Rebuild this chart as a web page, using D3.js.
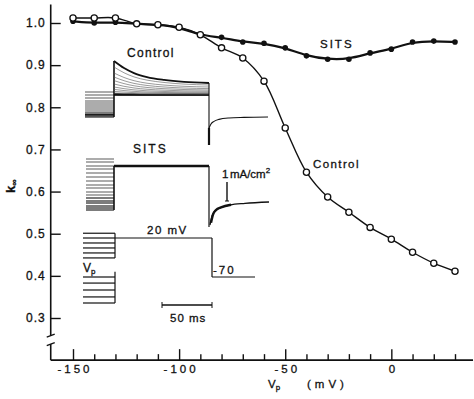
<!DOCTYPE html>
<html>
<head>
<meta charset="utf-8">
<script src="https://cdn.jsdelivr.net/npm/d3@7"></script>
<style>
body { margin: 0; background: #fff; }
text { font-family: "Liberation Sans", Arial, sans-serif; fill: #111; stroke: #111; stroke-width: 0.3px; }
</style>
</head>
<body>
<script>
var width = 474, height = 399;

// steady-state availability k_inf against prepulse potential Vp (mV)
var vp = [-150, -140, -130, -120, -110, -100, -90, -80, -70, -60, -50, -40, -30, -20, -10, 0, 10, 20, 30];
var kControl = [1.012, 1.012, 1.012, 0.998, 0.996, 0.990, 0.972, 0.941, 0.917, 0.862, 0.751, 0.646, 0.587, 0.551, 0.515, 0.487, 0.456, 0.430, 0.411];
var kSits = [1.004, 1.000, 1.002, 0.998, 0.996, 0.990, 0.971, 0.966, 0.955, 0.952, 0.941, 0.922, 0.914, 0.914, 0.929, 0.938, 0.955, 0.957, 0.955];

var xMajor = [-150, -100, -50, 0];
var xMinor = [-140, -130, -120, -110, -90, -80, -70, -60, -40, -30, -20, -10, 10, 20, 30];
var yTicks = [0.3, 0.4, 0.5, 0.6, 0.7, 0.8, 0.9, 1.0];

// inset records (time in ms, current in mA/cm2, voltage in mV)
var ctrlPre  = [0.0, 0.06, 0.12, 0.2, 0.3, 0.4, 0.5, 0.6, 0.7, 0.8, 0.95, 1.1, 1.25];
var ctrlPeak = [1.1, 1.12, 1.15, 1.2, 1.28, 1.38, 1.5, 1.65, 1.82, 2.0, 2.2, 2.5, 2.8];
var ctrlEnd  = [1.1, 1.11, 1.12, 1.14, 1.17, 1.2, 1.24, 1.29, 1.35, 1.42, 1.5, 1.6, 1.7];
var decayT    = [0, 10, 20, 33, 50, 70, 95];
var decayFrac = [1, 0.68, 0.45, 0.27, 0.14, 0.05, 0];
var sitsPre  = [2.15, 2.0, 1.8, 1.65, 1.45, 1.25, 1.05, 0.85, 0.7, 0.5, 0.35, 0.2, 0.05, -0.05, -0.2, -0.3, -0.4];
var sitsStep = 1.8;
var tailT    = [0, 2, 5, 10, 20, 35, 59];
var ctrlTail = [-0.55, -0.35, -0.22, -0.12, -0.05, -0.02, 0];
var sitsTail = [-1.15, -0.7, -0.45, -0.3, -0.15, -0.07, 0];
var ctrlSpike = -1.4, sitsSpike = -1.25;
var pulseEnd = 95;
var vPre = [31, 20, 8.5, -3, -14.5, -26, -70, -84, -100, -116, -130];
var vStep = 20, vHold = -70;

var svg = d3.select("body").append("svg")
    .attr("width", width)
    .attr("height", height);

svg.append("rect").attr("width", width).attr("height", height).attr("fill", "#fff");

var x = d3.scaleLinear().domain([-150, 30]).range([73, 455]);
var y = d3.scaleLinear().domain([0.3, 1.0]).range([318, 23]);

// ---- axes ----
var axes = svg.append("g").attr("id", "axes");
var x0 = x(-160.5), yBase = y(0.2);

axes.append("g")
    .attr("transform", "translate(0," + yBase + ")")
    .call(d3.axisBottom(x).tickValues(xMinor).tickSize(-6).tickFormat(""))
    .call(g => g.select(".domain").remove());

var xAx = axes.append("g")
    .attr("transform", "translate(0," + yBase + ")")
    .call(d3.axisBottom(x).tickValues(xMajor).tickSize(-11).tickPadding(5).tickFormat(d => String(d)));
xAx.select(".domain").remove();
xAx.selectAll("text").attr("font-size", 11.5).attr("letter-spacing", 3).attr("dx", 1.5)
    .attr("font-family", "Liberation Sans, Arial, sans-serif").attr("fill", "#111");

var yAx = axes.append("g")
    .attr("transform", "translate(" + x0 + ",0)")
    .call(d3.axisLeft(y).tickValues(yTicks).tickSize(-10).tickPadding(5).tickFormat(d3.format(".1f")));
yAx.select(".domain").remove();
yAx.selectAll("text").attr("font-size", 12).attr("letter-spacing", 1)
    .attr("font-family", "Liberation Sans, Arial, sans-serif").attr("fill", "#111");
axes.selectAll(".tick line").attr("stroke", "#111").attr("stroke-width", 1.4);

axes.append("line").attr("x1", x0).attr("x2", x(38.5)).attr("y1", yBase).attr("y2", yBase)
    .attr("stroke", "#111").attr("stroke-width", 1.6);
axes.append("line").attr("x1", x0).attr("x2", x0).attr("y1", y(1.044)).attr("y2", y(0.258))
    .attr("stroke", "#111").attr("stroke-width", 1.6);
axes.append("line").attr("x1", x0).attr("x2", x0).attr("y1", y(0.238)).attr("y2", yBase)
    .attr("stroke", "#111").attr("stroke-width", 1.6);
[0.258, 0.238].forEach(function(b) {
    axes.append("line").attr("x1", x0 - 4).attr("x2", x0 + 4)
        .attr("y1", y(b) + 1.5).attr("y2", y(b) - 1.5)
        .attr("stroke", "#111").attr("stroke-width", 1.4);
});

// axis titles
var xt = axes.append("text").attr("x", 268).attr("y", 388).attr("font-size", 11.5);
xt.append("tspan").text("V");
xt.append("tspan").attr("font-size", 8).attr("dy", 2).text("p");
axes.append("text").attr("x", 307).attr("y", 388).attr("font-size", 11.5)
    .attr("letter-spacing", 4).text("(mV)");

var yt = axes.append("text").attr("transform", "translate(15,193) rotate(-90)")
    .attr("font-size", 13).attr("font-weight", "bold");
yt.append("tspan").text("k");
yt.append("tspan").attr("font-size", 9).attr("dy", 2).text("\u221e");

// ---- k_inf curves ----
var plot = svg.append("g").attr("id", "plot");
var ctrlData = vp.map((v, i) => [v, kControl[i]]);
var sitsData = vp.map((v, i) => [v, kSits[i]]);

plot.append("path")
    .attr("d", d3.line().x(d => x(d[0])).y(d => y(d[1])).curve(d3.curveCatmullRom.alpha(0.5))(ctrlData))
    .attr("fill", "none").attr("stroke", "#111").attr("stroke-width", 1.4);
plot.append("path")
    .attr("d", d3.line().x(d => x(d[0])).y(d => y(d[1])).curve(d3.curveBasis)(sitsData))
    .attr("fill", "none").attr("stroke", "#111").attr("stroke-width", 2.2);

plot.selectAll("circle.sits").data(sitsData).enter().append("circle")
    .attr("class", "sits").attr("cx", d => x(d[0])).attr("cy", d => y(d[1]))
    .attr("r", 2.8).attr("fill", "#111");
plot.selectAll("circle.ctrl").data(ctrlData).enter().append("circle")
    .attr("class", "ctrl").attr("cx", d => x(d[0])).attr("cy", d => y(d[1]))
    .attr("r", 3.1).attr("fill", "#fff").attr("stroke", "#111").attr("stroke-width", 1.3);

plot.append("text").attr("x", 320).attr("y", 48).attr("font-size", 11.5).attr("letter-spacing", 2).text("SITS");
plot.append("text").attr("x", 313).attr("y", 168).attr("font-size", 11.5).attr("letter-spacing", 1.4).text("Control");

// ---- inset: currents and pulse protocol ----
var inset = svg.append("g").attr("id", "inset");
var tx = d3.scaleLinear().domain([0, 50]).range([114, 164]);
var cy = d3.scaleLinear().domain([0, 1]).range([117, 97]);
var sy = d3.scaleLinear().domain([0, 1]).range([202, 182]);
var vy = d3.scaleLinear().domain([-70, 20]).range([277, 238]);
var smooth = d3.line().curve(d3.curveMonotoneX);

function seg(x1, y1, x2, y2, w) {
    inset.append("line").attr("x1", x1).attr("y1", y1).attr("x2", x2).attr("y2", y2)
        .attr("stroke", "#111").attr("stroke-width", w || 1);
}

// control record
ctrlPre.forEach(function(v, i) { seg(tx(-29), cy(v), tx(0), cy(v), i < 4 ? 1.1 : 0.7); });
seg(tx(0), cy(d3.min(ctrlPre)), tx(0), cy(d3.max(ctrlPeak)), 1.6);
ctrlPeak.forEach(function(p, i) {
    var s = ctrlEnd[i];
    inset.append("path")
        .attr("d", smooth(decayT.map((t, j) => [tx(t), cy(s + (p - s) * decayFrac[j])])))
        .attr("fill", "none").attr("stroke", i < 3 || i == ctrlPeak.length - 1 ? "#111" : "#555")
        .attr("stroke-width", i == ctrlPeak.length - 1 ? 1.8 : (i < 3 ? 1.5 : 0.6));
});
seg(tx(pulseEnd), cy(d3.max(ctrlEnd)), tx(pulseEnd), cy(ctrlSpike), 1.1);
seg(tx(pulseEnd), cy(ctrlTail[0]), tx(pulseEnd), cy(ctrlSpike), 2.2);
inset.append("path")
    .attr("d", smooth(tailT.map((t, j) => [tx(pulseEnd + t), cy(ctrlTail[j])])))
    .attr("fill", "none").attr("stroke", "#111").attr("stroke-width", 1.1);
inset.append("text").attr("x", 127).attr("y", 57).attr("font-size", 12).attr("letter-spacing", 1.3).text("Control");

// SITS record
sitsPre.forEach(function(v, i) { seg(tx(-28), sy(v), tx(0), sy(v), i > 10 ? 1.1 : 0.7); });
seg(tx(0), sy(d3.min(sitsPre)), tx(0), sy(sitsStep), 1.6);
seg(tx(0), sy(sitsStep), tx(pulseEnd), sy(sitsStep), 2.3);
seg(tx(pulseEnd), sy(sitsStep), tx(pulseEnd), sy(sitsSpike), 1.2);
inset.append("path")
    .attr("d", smooth(tailT.map((t, j) => [tx(pulseEnd + t + 1), sy(sitsTail[j])])))
    .attr("fill", "none").attr("stroke", "#111").attr("stroke-width", 1.3);
inset.append("path")
    .attr("d", smooth(tailT.slice(0, 5).map((t, j) => [tx(pulseEnd + t + 2), sy(sitsTail[j] * 0.9)])))
    .attr("fill", "none").attr("stroke", "#111").attr("stroke-width", 2.4);
inset.append("text").attr("x", 133).attr("y", 153).attr("font-size", 12).attr("letter-spacing", 2).text("SITS");

// current scale bar
seg(tx(113), sy(0.05), tx(113), sy(1.0), 1.4);
seg(tx(111), sy(0.05), tx(115), sy(0.05), 1);
var ca = inset.append("text").attr("x", 222).attr("y", 178).attr("font-size", 11.5);
ca.append("tspan").text("1");
ca.append("tspan").attr("dx", 1.5).text("mA/cm");
ca.append("tspan").attr("font-size", 8).attr("dy", -5).text("2");

// voltage protocol
vPre.forEach(function(v) { seg(tx(-31), vy(v), tx(1), vy(v), 1.2); });
seg(tx(1), vy(d3.max(vPre)), tx(1), vy(-26), 1.2);
seg(tx(1), vy(-58), tx(1), vy(d3.min(vPre)), 1.2);
seg(tx(1), vy(vStep), tx(98), vy(vStep), 1.2);
seg(tx(98), vy(vStep), tx(98), vy(vHold), 1.2);
seg(tx(98), vy(vHold), tx(141), vy(vHold), 1.2);
inset.append("text").attr("x", 147).attr("y", 234).attr("font-size", 11.5).attr("letter-spacing", 1.5).text("20 mV");
inset.append("text").attr("x", 213).attr("y", 274).attr("font-size", 11.5).attr("letter-spacing", 2).text("-70");
var vpl = inset.append("text").attr("x", 83).attr("y", 272).attr("font-size", 12);
vpl.append("tspan").text("V");
vpl.append("tspan").attr("font-size", 8).attr("dy", 2).text("p");

// time scale bar
seg(tx(48), 305, tx(98), 305, 1.3);
seg(tx(48), 302, tx(48), 308, 1);
seg(tx(98), 302, tx(98), 308, 1);
inset.append("text").attr("x", 170).attr("y", 322).attr("font-size", 11.5).attr("letter-spacing", 1).text("50 ms");
</script>
</body>
</html>
